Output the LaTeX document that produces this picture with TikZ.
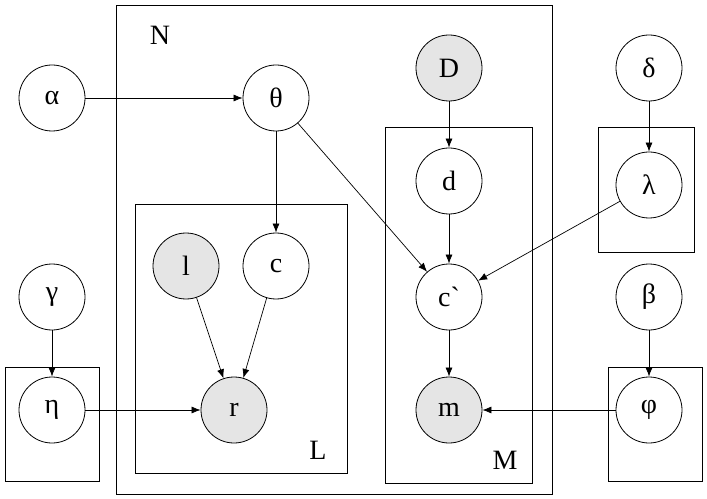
\documentclass[tikz,border=0pt]{standalone}
\usepackage{fontspec}
\setmainfont{Liberation Serif}
\newfontfamily\rawfont{Liberation Serif}[Ligatures=ResetAll]
\usetikzlibrary{arrows.meta}
\begin{document}
\begin{tikzpicture}[x=1bp,y=-1bp,
  v/.style={circle,draw,line width=0.8bp,minimum size=66bp,inner sep=0pt,font=\rawfont\fontsize{28bp}{30bp}\selectfont},
  obs/.style={v,fill=black!10},
  plate/.style={draw,line width=0.8bp},
  lab/.style={font=\fontsize{28bp}{30bp}\selectfont},
  e/.style={-{Latex[length=9bp,width=7bp]},line width=0.7bp}]
\useasboundingbox (0,0) rectangle (707,499);
\draw[plate] (116,5) rectangle (552,494);
\draw[plate] (135,204) rectangle (347,473);
\draw[plate] (385,127) rectangle (532,483);
\draw[plate] (598,127) rectangle (694,252);
\draw[plate] (5,367) rectangle (99,481);
\draw[plate] (608,367) rectangle (702,481);
\node[lab] (lN) at (160,35) {N};
\node[lab] (lL) at (318,450) {L};
\node[lab] (lM) at (505,460) {M};
\node[v] (alpha) at (52,98) {α};
\node[v] (theta) at (276,98) {θ};
\node[obs] (D) at (449,68) {D};
\node[v] (delta) at (649,68) {δ};
\node[v] (d) at (449,181) {d};
\node[v] (lambda) at (649,185) {λ};
\node[obs] (l) at (186,266) {l};
\node[v] (c) at (276,266) {c};
\node[v] (cc) at (449,297) {c`};
\node[v] (gamma) at (52,297) {γ};
\node[v] (beta) at (649,297) {β};
\node[v] (eta) at (52,410) {η};
\node[obs] (r) at (234,410) {r};
\node[obs] (m) at (449,410) {m};
\node[v] (phi) at (649,410) {φ};
\draw[e] (alpha) -- (theta);
\draw[e] (theta) -- (c);
\draw[e] (theta) -- (cc);
\draw[e] (D) -- (d);
\draw[e] (d) -- (cc);
\draw[e] (lambda) -- (cc);
\draw[e] (delta) -- (lambda);
\draw[e] (l) -- (r);
\draw[e] (c) -- (r);
\draw[e] (cc) -- (m);
\draw[e] (gamma) -- (eta);
\draw[e] (eta) -- (r);
\draw[e] (beta) -- (phi);
\draw[e] (phi) -- (m);
\end{tikzpicture}
\end{document}
